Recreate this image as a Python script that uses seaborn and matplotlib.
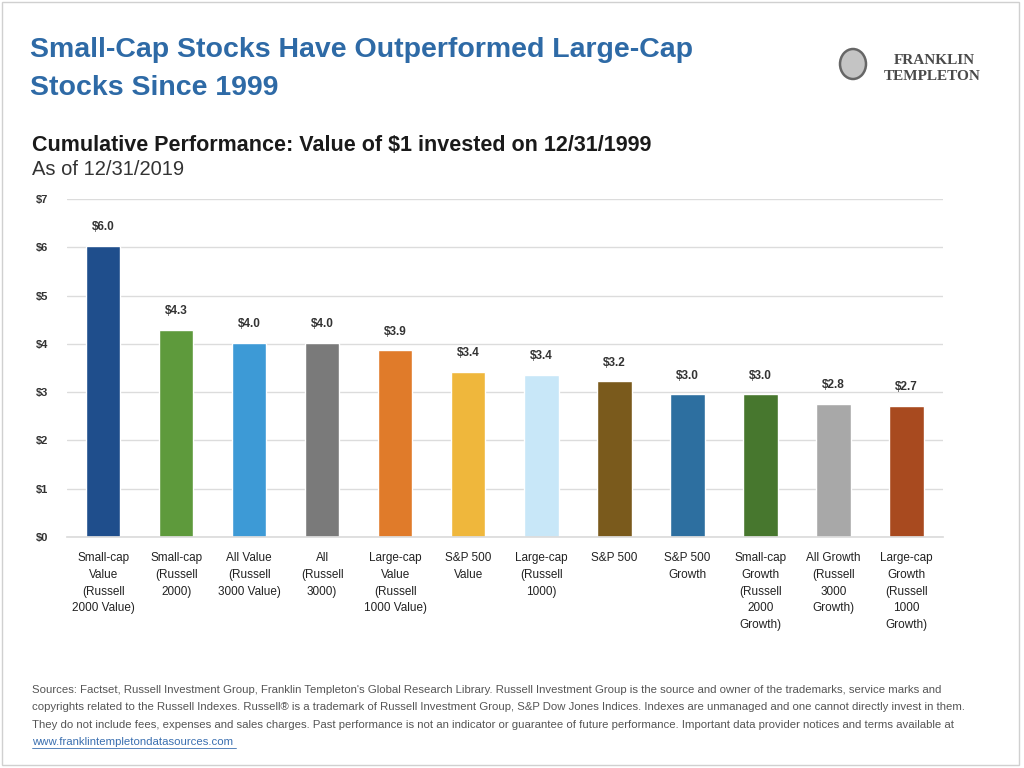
import matplotlib
matplotlib.use("Agg")
import matplotlib.pyplot as plt
import seaborn as sns
import pandas as pd
from matplotlib.patches import Rectangle, Ellipse

categories = [
    "Small-cap\nValue\n(Russell\n2000 Value)",
    "Small-cap\n(Russell\n2000)",
    "All Value\n(Russell\n3000 Value)",
    "All\n(Russell\n3000)",
    "Large-cap\nValue\n(Russell\n1000 Value)",
    "S&P 500\nValue",
    "Large-cap\n(Russell\n1000)",
    "S&P 500",
    "S&P 500\nGrowth",
    "Small-cap\nGrowth\n(Russell\n2000\nGrowth)",
    "All Growth\n(Russell\n3000\nGrowth)",
    "Large-cap\nGrowth\n(Russell\n1000\nGrowth)",
]
values = [6.03, 4.29, 4.02, 4.02, 3.87, 3.42, 3.36, 3.23, 2.96, 2.96, 2.76, 2.72]
bar_colors = ["#1f4e8c", "#5e9a3c", "#3d9ad6", "#7a7a7a", "#e07b2a", "#efb73c",
              "#c8e7f8", "#7a5a1c", "#2d6fa0", "#47772e", "#a8a8a8", "#a84a1f"]
y_ticks = [0, 1, 2, 3, 4, 5, 6, 7]
y_tick_labels = ["$0", "$1", "$2", "$3", "$4", "$5", "$6", "$7"]

sns.set_theme(style="white")
plt.rcParams["font.family"] = ["Liberation Sans", "DejaVu Sans"]

fig = plt.figure(figsize=(10.24, 7.68), dpi=100)
ax = fig.add_axes([0.065, 0.3008, 0.856, 0.4401])

df = pd.DataFrame({"cat": categories, "val": values})
sns.barplot(data=df, x="cat", y="val", hue="cat", palette=bar_colors,
            width=0.47, legend=False, ax=ax, saturation=1)

for cont in ax.containers:
    ax.bar_label(cont, labels=[f"${v:.1f}" for v in cont.datavalues],
                 padding=9, fontsize=8.5, fontweight="bold", color="#333333")

ax.set_ylim(0, 7)
ax.set_xlim(-0.5, len(categories) - 0.5)
ax.set_yticks(y_ticks)
ax.set_yticklabels(y_tick_labels, fontsize=8, fontweight="bold", color="#333333")
ax.set_xticks(range(len(categories)))
ax.set_xticklabels(categories, fontsize=8.5, color="#222222", linespacing=1.52)
ax.tick_params(axis="y", length=0, pad=13)
ax.tick_params(axis="x", length=0, pad=11)
ax.set_xlabel("")
ax.set_ylabel("")
ax.grid(axis="y", color="#dcdcdc", linewidth=1)
ax.set_axisbelow(True)
for s in ["top", "right", "left"]:
    ax.spines[s].set_visible(False)
ax.spines["bottom"].set_color("#dcdcdc")

# Titles
fig.text(0.029, 0.935, "Small-Cap Stocks Have Outperformed Large-Cap", fontsize=20.5,
         fontweight="bold", color="#2e6aa6", va="center", ha="left")
fig.text(0.029, 0.885, "Stocks Since 1999", fontsize=20.5,
         fontweight="bold", color="#2e6aa6", va="center", ha="left")
fig.text(0.031, 0.811, "Cumulative Performance: Value of $1 invested on 12/31/1999",
         fontsize=15.5, fontweight="bold", color="#1a1a1a", va="center", ha="left")
fig.text(0.031, 0.779, "As of 12/31/2019", fontsize=14.5, color="#333333",
         va="center", ha="left")

# Logo
fig.text(0.912, 0.921, "FRANKLIN", fontsize=11, fontweight="bold", color="#4a4a4a",
         family=["Liberation Serif", "DejaVu Serif"], va="center", ha="center")
fig.text(0.910, 0.901, "TEMPLETON", fontsize=11, fontweight="bold", color="#4a4a4a",
         family=["Liberation Serif", "DejaVu Serif"], va="center", ha="center")
fig.patches.append(Ellipse((853 / 1024, 1 - 64 / 768), 26 / 1024, 30 / 768,
                           transform=fig.transFigure, facecolor="#c4c4c4",
                           edgecolor="#666666", linewidth=1.8))

# Footer
footer = [
    "Sources: Factset, Russell Investment Group, Franklin Templeton's Global Research Library. Russell Investment Group is the source and owner of the trademarks, service marks and",
    "copyrights related to the Russell Indexes. Russell\u00ae is a trademark of Russell Investment Group, S&P Dow Jones Indices. Indexes are unmanaged and one cannot directly invest in them.",
    "They do not include fees, expenses and sales charges. Past performance is not an indicator or guarantee of future performance. Important data provider notices and terms available at",
]
for i, line in enumerate(footer):
    fig.text(0.031, 0.1015 - i * 0.0225, line, fontsize=8.2, color="#555555",
             va="center", ha="left")
fig.text(0.031, 0.0340, "www.franklintempletondatasources.com", fontsize=8.2,
         color="#3a6fb0", va="center", ha="left")
fig.lines.append(plt.Line2D([0.031, 0.230], [0.026, 0.026], transform=fig.transFigure,
                            color="#3a6fb0", linewidth=0.6))

# thin frame
fig.patches.append(Rectangle((0.002, 0.004), 0.993, 0.994, transform=fig.transFigure,
                             fill=False, edgecolor="#d0d0d0", linewidth=1))

fig.savefig("out.png", dpi=100)
